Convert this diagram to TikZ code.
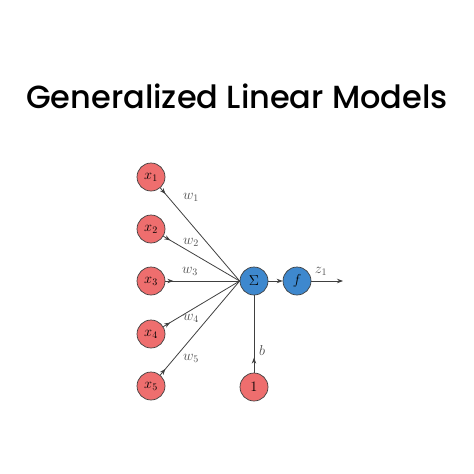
\documentclass[tikz,border=0pt]{standalone}
\usepackage{fontspec}
\newfontfamily\titlefont{Poppins Medium}
\usetikzlibrary{arrows.meta,decorations.markings}

\definecolor{inred}{RGB}{238,110,110}
\definecolor{unitblue}{RGB}{62,136,206}

\tikzset{
  neuron/.style={circle, draw=black!75, line width=0.7pt, minimum size=28pt,
    inner sep=0pt, font=\Large},
  input/.style={neuron, fill=inred},
  unit/.style={neuron, fill=unitblue},
  wire/.style={draw=black!75, line width=0.8pt},
  inwire/.style={wire, postaction={decorate}, decoration={markings,
    mark=at position #1 with {\arrow{Stealth[length=6pt,width=4.5pt]}}}},
  inwire/.default=8pt,
  wlabel/.style={font=\Large, text=black!70}
}

\begin{document}
\begin{tikzpicture}[x=1pt,y=-1pt]
    \useasboundingbox (0,0) rectangle (474,474);

    \node[font=\titlefont\fontsize{32}{36}\selectfont] (title) at (237,96) {Generalized Linear Models};

    % inputs
    \foreach \i/\y in {1/177,2/229,3/281,4/334,5/386}
        \node[input] (x\i) at (151,\y) {$x_\i$};

    \node[unit] (sum) at (254,281) {$\Sigma$};
    \node[unit] (f) at (297,281) {$f$};
    \node[input] (one) at (254,387) {$1$};
    \coordinate (out) at (343,281);

    \foreach \i in {1,...,5}
        \draw[inwire] (x\i) -- (sum.west);
    \draw[inwire=15pt] (one) -- (sum);
    \draw[wire,-{Stealth[length=6pt,width=4.5pt]}] (sum) -- (f);
    \draw[wire,-{Stealth[length=6pt,width=4.5pt]}] (f) -- (out);

    % weights
    \node[wlabel] (w1) at (191,197) {$w_1$};
    \node[wlabel] (w2) at (191,242) {$w_2$};
    \node[wlabel] (w3) at (190,271) {$w_3$};
    \node[wlabel] (w4) at (191,318) {$w_4$};
    \node[wlabel] (w5) at (191,358) {$w_5$};
    \node[wlabel] (b) at (262,350) {$b$};
    \node[wlabel] (z1) at (321,271) {$z_1$};
\end{tikzpicture}
\end{document}
